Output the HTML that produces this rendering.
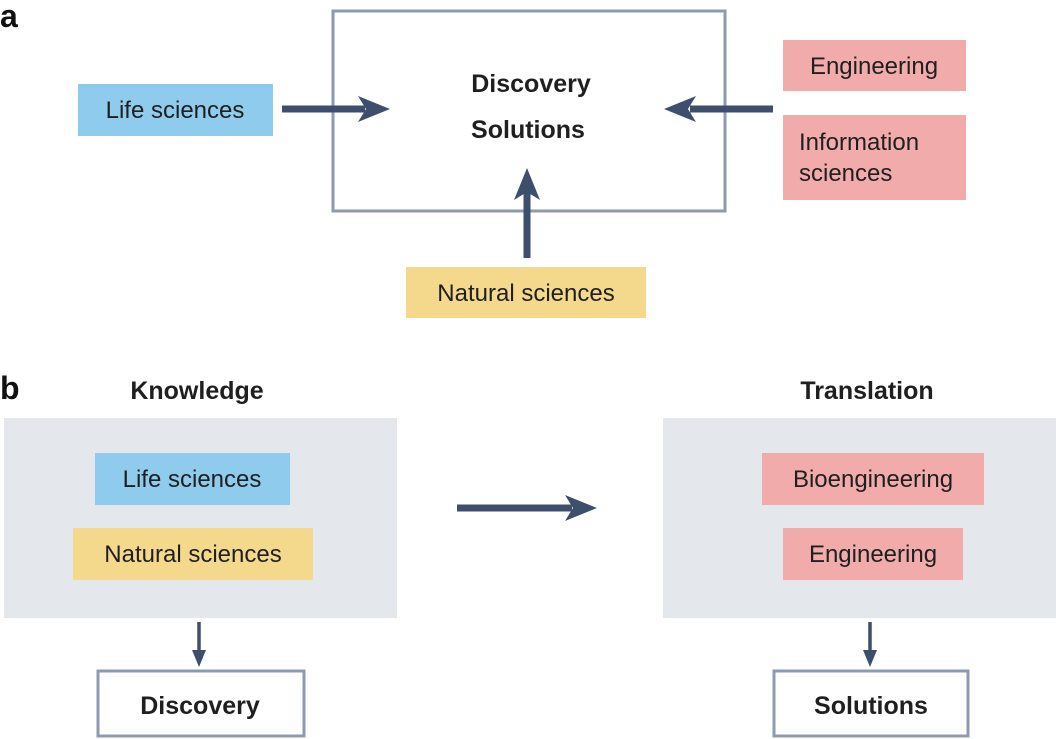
<!DOCTYPE html>
<html><head><style>html,body{margin:0;padding:0;background:#fff}svg{display:block}text{font-family:"Liberation Sans",sans-serif;fill:#1f1f1f}</style></head><body>
<svg width="1056" height="739" viewBox="0 0 1056 739" xmlns="http://www.w3.org/2000/svg">
<defs><marker id="h" markerWidth="10" markerHeight="10" refX="2" refY="5" orient="auto" markerUnits="userSpaceOnUse" viewBox="0 0 10 10"></marker></defs>
<text x="0" y="27" font-size="32" font-weight="bold" style="fill:#111">a</text>
<text x="0" y="399" font-size="32" font-weight="bold" style="fill:#111">b</text>
<rect x="333" y="11" width="392" height="200" fill="#fff" stroke="#8e9ab0" stroke-width="3"/>
<text x="531" y="92" font-size="25" font-weight="bold" text-anchor="middle">Discovery</text>
<text x="528" y="138" font-size="25" font-weight="bold" text-anchor="middle">Solutions</text>
<rect x="78" y="84" width="195" height="52" fill="#8ecbec"/>
<text x="175" y="118" font-size="24" text-anchor="middle">Life sciences</text>
<rect x="783" y="40" width="183" height="51" fill="#f2abab"/>
<text x="874" y="74" font-size="24" text-anchor="middle">Engineering</text>
<rect x="783" y="115" width="183" height="85" fill="#f2abab"/>
<text x="799" y="150" font-size="24">Information</text>
<text x="799" y="181" font-size="24">sciences</text>
<rect x="406" y="267" width="240" height="51" fill="#f4d98c"/>
<text x="526" y="301" font-size="24" text-anchor="middle">Natural sciences</text>
<g fill="#3d4f6d" stroke="#3d4f6d">
<line x1="282" y1="109" x2="365" y2="109" stroke-width="7"/>
<polygon points="390,109 358,96 366,109 358,122" stroke="none"/>
<line x1="773" y1="109" x2="690" y2="109" stroke-width="7"/>
<polygon points="664,109 696,96 688,109 696,122" stroke="none"/>
<line x1="527" y1="258" x2="527" y2="192" stroke-width="7"/>
<polygon points="527,168 514,200 527,192 540,200" stroke="none"/>
<line x1="457" y1="508" x2="572" y2="508" stroke-width="7"/>
<polygon points="597,508 565,495 573,508 565,521" stroke="none"/>
<line x1="199" y1="622" x2="199" y2="655" stroke-width="3.5"/>
<polygon points="199,667 192,650 206,650" stroke="none"/>
<line x1="870" y1="622" x2="870" y2="655" stroke-width="3.5"/>
<polygon points="870,667 863,650 877,650" stroke="none"/>
</g>
<text x="197" y="399" font-size="25" font-weight="bold" text-anchor="middle">Knowledge</text>
<text x="867" y="399" font-size="25" font-weight="bold" text-anchor="middle">Translation</text>
<rect x="4" y="418" width="393" height="200" fill="#e4e7ec"/>
<rect x="663" y="418" width="393" height="200" fill="#e4e7ec"/>
<rect x="95" y="453" width="195" height="52" fill="#8ecbec"/>
<text x="192" y="487" font-size="24" text-anchor="middle">Life sciences</text>
<rect x="73" y="528" width="240" height="52" fill="#f4d98c"/>
<text x="193" y="562" font-size="24" text-anchor="middle">Natural sciences</text>
<rect x="762" y="453" width="222" height="52" fill="#f2abab"/>
<text x="873" y="487" font-size="24" text-anchor="middle">Bioengineering</text>
<rect x="783" y="528" width="180" height="52" fill="#f2abab"/>
<text x="873" y="562" font-size="24" text-anchor="middle">Engineering</text>
<rect x="98" y="671" width="206" height="65" fill="#fff" stroke="#8e9ab0" stroke-width="3"/>
<text x="200" y="714" font-size="25" font-weight="bold" text-anchor="middle">Discovery</text>
<rect x="774" y="671" width="194" height="65" fill="#fff" stroke="#8e9ab0" stroke-width="3"/>
<text x="871" y="714" font-size="25" font-weight="bold" text-anchor="middle">Solutions</text>
</svg>
</body></html>
